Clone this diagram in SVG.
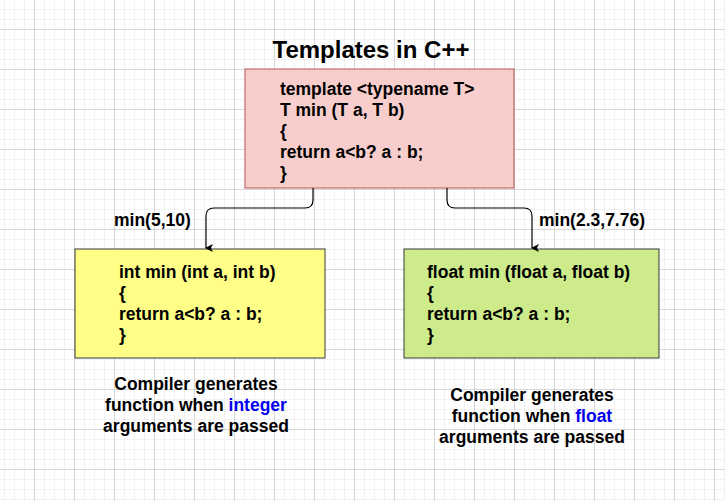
<svg xmlns="http://www.w3.org/2000/svg" width="725" height="501" viewBox="0 0 725 501">
<defs>
<pattern id="minor" x="4" y="9" width="10" height="10" patternUnits="userSpaceOnUse"><path d="M0 0V10M0 0H10" stroke="#e6e6e6" stroke-width="1" fill="none"/></pattern>
<pattern id="major" x="34" y="29" width="40" height="40" patternUnits="userSpaceOnUse"><path d="M0 0V40M0 0H40" stroke="#bdbdbd" stroke-width="1" fill="none"/></pattern>
<marker id="arr" markerWidth="10" markerHeight="10" refX="5" refY="8" orient="auto-start-reverse" markerUnits="userSpaceOnUse" viewBox="0 0 10 10"><path d="M1 1 L5 9 L9 1 L5 3 Z" fill="#000"/></marker>
</defs>
<style>
text{font-family:"Liberation Sans",Arial,sans-serif;font-weight:bold;font-size:17.5px;fill:#000}
.c{stroke:#000;stroke-width:1.2;fill:none}
</style>
<rect width="725" height="501" fill="#fff"/>
<rect width="725" height="501" fill="url(#minor)"/>
<rect width="725" height="501" fill="url(#major)"/>
<text x="371" y="58" text-anchor="middle" style="font-size:24px">Templates in C++</text>
<g id="template">
<rect x="245" y="69" width="269" height="119" fill="#f8cecc" stroke="#b85450"/>
<text x="280" y="95">template &lt;typename T&gt;</text>
<text x="280" y="116">T min (T a, T b)</text>
<text x="280" y="137">{</text>
<text x="280" y="158">return a&lt;b? a : b;</text>
<text x="280" y="179">}</text>
</g>
<g id="intfn">
<rect x="75" y="249" width="250" height="109" fill="#ffff88" stroke="#36393d"/>
<text x="119" y="278">int min (int a, int b)</text>
<text x="119" y="299">{</text>
<text x="119" y="320">return a&lt;b? a : b;</text>
<text x="119" y="341">}</text>
</g>
<g id="floatfn">
<rect x="404" y="249" width="255" height="109" fill="#cdeb8b" stroke="#36393d"/>
<text x="427" y="278">float min (float a, float b)</text>
<text x="427" y="299">{</text>
<text x="427" y="320">return a&lt;b? a : b;</text>
<text x="427" y="341">}</text>
</g>
<g id="connectors">
<path class="c" d="M313 188 V200 Q313 208 305 208 H214 Q206 208 206 216 V248" marker-end="url(#arr)"/>
<path class="c" d="M447 188 V200 Q447 208 455 208 H524 Q532 208 532 216 V248" marker-end="url(#arr)"/>
<text x="114" y="226">min(5,10)</text>
<text x="539" y="226">min(2.3,7.76)</text>
</g>
<g id="note1">
<text x="196" y="390" text-anchor="middle">Compiler generates</text>
<text x="196" y="411" text-anchor="middle">function when <tspan fill="#0000ee">integer</tspan></text>
<text x="196" y="432" text-anchor="middle">arguments are passed</text>
</g>
<g id="note2">
<text x="532" y="401" text-anchor="middle">Compiler generates</text>
<text x="532" y="422" text-anchor="middle">function when <tspan fill="#0000ee">float</tspan></text>
<text x="532" y="443" text-anchor="middle">arguments are passed</text>
</g>
</svg>
